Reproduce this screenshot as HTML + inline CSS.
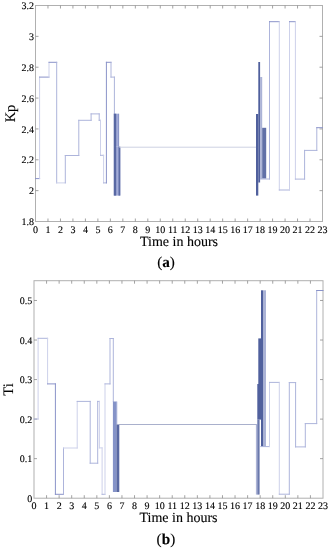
<!DOCTYPE html><html><head><meta charset="utf-8"><style>html,body{margin:0;padding:0;background:#fff;}body{width:329px;height:550px;overflow:hidden;}svg{display:block;text-rendering:geometricPrecision;}.tk{font-family:"Liberation Serif",serif;font-size:10px;fill:#000;stroke:#000;stroke-width:0.12px;}.lb{font-family:"Liberation Serif",serif;font-size:14px;fill:#000;stroke:#000;stroke-width:0.12px;}</style></head><body>
<svg width="329" height="550" viewBox="0 0 329 550">
<rect x="35.5" y="5.5" width="287" height="216" fill="none" stroke="#b0b0b0" stroke-width="1"/>
<path d="M47.98 221.5V218.5M47.98 5.5V8.5M60.46 221.5V218.5M60.46 5.5V8.5M72.93 221.5V218.5M72.93 5.5V8.5M85.41 221.5V218.5M85.41 5.5V8.5M97.89 221.5V218.5M97.89 5.5V8.5M110.37 221.5V218.5M110.37 5.5V8.5M122.85 221.5V218.5M122.85 5.5V8.5M135.33 221.5V218.5M135.33 5.5V8.5M147.8 221.5V218.5M147.8 5.5V8.5M160.28 221.5V218.5M160.28 5.5V8.5M172.76 221.5V218.5M172.76 5.5V8.5M185.24 221.5V218.5M185.24 5.5V8.5M197.72 221.5V218.5M197.72 5.5V8.5M210.2 221.5V218.5M210.2 5.5V8.5M222.67 221.5V218.5M222.67 5.5V8.5M235.15 221.5V218.5M235.15 5.5V8.5M247.63 221.5V218.5M247.63 5.5V8.5M260.11 221.5V218.5M260.11 5.5V8.5M272.59 221.5V218.5M272.59 5.5V8.5M285.07 221.5V218.5M285.07 5.5V8.5M297.54 221.5V218.5M297.54 5.5V8.5M310.02 221.5V218.5M310.02 5.5V8.5M35.5 190.64H38.5M322.5 190.64H319.5M35.5 159.79H38.5M322.5 159.79H319.5M35.5 128.93H38.5M322.5 128.93H319.5M35.5 98.07H38.5M322.5 98.07H319.5M35.5 67.21H38.5M322.5 67.21H319.5M35.5 36.36H38.5M322.5 36.36H319.5" stroke="#8c8c8c" stroke-width="0.8" fill="none"/>
<text x="35.5" y="232.8" class="tk" text-anchor="middle">0</text>
<text x="47.98" y="232.8" class="tk" text-anchor="middle">1</text>
<text x="60.46" y="232.8" class="tk" text-anchor="middle">2</text>
<text x="72.93" y="232.8" class="tk" text-anchor="middle">3</text>
<text x="85.41" y="232.8" class="tk" text-anchor="middle">4</text>
<text x="97.89" y="232.8" class="tk" text-anchor="middle">5</text>
<text x="110.37" y="232.8" class="tk" text-anchor="middle">6</text>
<text x="122.85" y="232.8" class="tk" text-anchor="middle">7</text>
<text x="135.33" y="232.8" class="tk" text-anchor="middle">8</text>
<text x="147.8" y="232.8" class="tk" text-anchor="middle">9</text>
<text x="160.28" y="232.8" class="tk" text-anchor="middle">10</text>
<text x="172.76" y="232.8" class="tk" text-anchor="middle">11</text>
<text x="185.24" y="232.8" class="tk" text-anchor="middle">12</text>
<text x="197.72" y="232.8" class="tk" text-anchor="middle">13</text>
<text x="210.2" y="232.8" class="tk" text-anchor="middle">14</text>
<text x="222.67" y="232.8" class="tk" text-anchor="middle">15</text>
<text x="235.15" y="232.8" class="tk" text-anchor="middle">16</text>
<text x="247.63" y="232.8" class="tk" text-anchor="middle">17</text>
<text x="260.11" y="232.8" class="tk" text-anchor="middle">18</text>
<text x="272.59" y="232.8" class="tk" text-anchor="middle">19</text>
<text x="285.07" y="232.8" class="tk" text-anchor="middle">20</text>
<text x="297.54" y="232.8" class="tk" text-anchor="middle">21</text>
<text x="310.02" y="232.8" class="tk" text-anchor="middle">22</text>
<text x="322.5" y="232.8" class="tk" text-anchor="middle">23</text>
<text x="33.9" y="225.1" class="tk" text-anchor="end">1.8</text>
<text x="33.9" y="194.24" class="tk" text-anchor="end">2</text>
<text x="33.9" y="163.39" class="tk" text-anchor="end">2.2</text>
<text x="33.9" y="132.53" class="tk" text-anchor="end">2.4</text>
<text x="33.9" y="101.67" class="tk" text-anchor="end">2.6</text>
<text x="33.9" y="70.81" class="tk" text-anchor="end">2.8</text>
<text x="33.9" y="39.96" class="tk" text-anchor="end">3</text>
<text x="33.9" y="9.1" class="tk" text-anchor="end">3.2</text>
<text transform="translate(14.6,113.5) rotate(-90)" class="lb" style="font-size:14.5px" text-anchor="middle">Kp</text>
<text x="179" y="246.2" class="lb" text-anchor="middle">Time in hours</text>
<text x="166" y="267.2" class="lb" style="font-size:15.2px" text-anchor="middle">(<tspan font-weight="bold">a</tspan>)</text>
<path d="M35.5 178.6L39.6 178.6" stroke="#8a93c9" stroke-width="1.0" stroke-linecap="square" fill="none"/>
<path d="M39.6 178.6L39.6 77.1" stroke="#cdd1ea" stroke-width="1.0" stroke-linecap="square" fill="none"/>
<path d="M39.6 77.1L49 77.1" stroke="#8a93c9" stroke-width="1.0" stroke-linecap="square" fill="none"/>
<path d="M49 77.1L49 62.3" stroke="#cdd1ea" stroke-width="1.0" stroke-linecap="square" fill="none"/>
<path d="M49 62.3L56.7 62.3" stroke="#8a93c9" stroke-width="1.0" stroke-linecap="square" fill="none"/>
<path d="M56.7 62.3L56.7 182.9" stroke="#adb4db" stroke-width="1.0" stroke-linecap="square" fill="none"/>
<path d="M56.7 182.9L65.3 182.9" stroke="#cdd1ea" stroke-width="1.0" stroke-linecap="square" fill="none"/>
<path d="M65.3 182.9L65.3 155.5" stroke="#adb4db" stroke-width="1.0" stroke-linecap="square" fill="none"/>
<path d="M65.3 155.5L78.8 155.5" stroke="#adb4db" stroke-width="1.0" stroke-linecap="square" fill="none"/>
<path d="M78.8 155.5L78.8 120.3" stroke="#adb4db" stroke-width="1.0" stroke-linecap="square" fill="none"/>
<path d="M78.8 120.3L91.1 120.3" stroke="#adb4db" stroke-width="1.0" stroke-linecap="square" fill="none"/>
<path d="M91.1 120.3L91.1 113.9" stroke="#adb4db" stroke-width="1.0" stroke-linecap="square" fill="none"/>
<path d="M91.1 113.9L99.2 113.9" stroke="#adb4db" stroke-width="1.0" stroke-linecap="square" fill="none"/>
<path d="M99.2 113.9L99.2 120.3" stroke="#adb4db" stroke-width="1.0" stroke-linecap="square" fill="none"/>
<path d="M99.2 120.3L100.5 120.3" stroke="#adb4db" stroke-width="1.0" stroke-linecap="square" fill="none"/>
<path d="M100.5 120.3L100.5 155.3" stroke="#cdd1ea" stroke-width="1.0" stroke-linecap="square" fill="none"/>
<path d="M100.5 155.3L103.6 155.3" stroke="#adb4db" stroke-width="1.0" stroke-linecap="square" fill="none"/>
<path d="M103.6 155.3L103.6 182.9" stroke="#cdd1ea" stroke-width="1.0" stroke-linecap="square" fill="none"/>
<path d="M103.6 182.9L106.4 182.9" stroke="#adb4db" stroke-width="1.0" stroke-linecap="square" fill="none"/>
<path d="M106.4 182.9L106.4 62.3" stroke="#8a93c9" stroke-width="1.0" stroke-linecap="square" fill="none"/>
<path d="M106.4 62.3L111 62.3" stroke="#8a93c9" stroke-width="1.0" stroke-linecap="square" fill="none"/>
<path d="M111 62.3L111 77.1" stroke="#adb4db" stroke-width="1.0" stroke-linecap="square" fill="none"/>
<path d="M111 77.1L114.4 77.1" stroke="#adb4db" stroke-width="1.0" stroke-linecap="square" fill="none"/>
<path d="M114.4 77.1L114.4 114" stroke="#adb4db" stroke-width="1.0" stroke-linecap="square" fill="none"/>
<rect x="113.8" y="113.7" width="5.3" height="33" fill="#a3acd8" fill-opacity="1"/>
<rect x="113.8" y="146.7" width="6.5" height="48.9" fill="#a3acd8" fill-opacity="1"/>
<rect x="113.8" y="113.7" width="2.4" height="81.9" fill="#50609d" fill-opacity="0.9"/>
<rect x="118.5" y="146.7" width="1.8" height="48.9" fill="#50609d" fill-opacity="0.85"/>
<rect x="118.3" y="113.7" width="0.8" height="33" fill="#50609d" fill-opacity="0.4"/>
<path d="M119.3 147.2 256.5 147.2" stroke="#cdd1e2" stroke-width="1.0" fill="none" stroke-opacity="1"/>
<rect x="256" y="114" width="2.3" height="81.6" fill="#50609d" fill-opacity="1"/>
<rect x="258.3" y="62" width="1.8" height="120.5" fill="#50609d" fill-opacity="1"/>
<rect x="260.1" y="77" width="2.1" height="102" fill="#abb3d6" fill-opacity="1"/>
<rect x="262.2" y="127.8" width="4" height="50.8" fill="#50609d" fill-opacity="0.9"/>
<path d="M260.4 179L269.5 179" stroke="#adb4db" stroke-width="1.0" stroke-linecap="square" fill="none"/>
<path d="M269.5 179L269.5 21.7" stroke="#adb4db" stroke-width="1.0" stroke-linecap="square" fill="none"/>
<path d="M269.5 21.7L279.3 21.7" stroke="#8a93c9" stroke-width="1.0" stroke-linecap="square" fill="none"/>
<path d="M279.3 21.7L279.3 190" stroke="#cdd1ea" stroke-width="1.0" stroke-linecap="square" fill="none"/>
<path d="M279.3 190L289.5 190" stroke="#adb4db" stroke-width="1.0" stroke-linecap="square" fill="none"/>
<path d="M289.5 190L289.5 21.7" stroke="#cdd1ea" stroke-width="1.0" stroke-linecap="square" fill="none"/>
<path d="M289.5 21.7L295.4 21.7" stroke="#8a93c9" stroke-width="1.0" stroke-linecap="square" fill="none"/>
<path d="M295.4 21.7L295.4 179.1" stroke="#cdd1ea" stroke-width="1.0" stroke-linecap="square" fill="none"/>
<path d="M295.4 179.1L304.6 179.1" stroke="#adb4db" stroke-width="1.0" stroke-linecap="square" fill="none"/>
<path d="M304.6 179.1L304.6 150.4" stroke="#adb4db" stroke-width="1.0" stroke-linecap="square" fill="none"/>
<path d="M304.6 150.4L316.8 150.4" stroke="#adb4db" stroke-width="1.0" stroke-linecap="square" fill="none"/>
<path d="M316.8 150.4L316.8 127.7" stroke="#adb4db" stroke-width="1.0" stroke-linecap="square" fill="none"/>
<path d="M316.8 127.7L322.5 127.7" stroke="#8a93c9" stroke-width="1.0" stroke-linecap="square" fill="none"/>
<rect x="34" y="280.7" width="289" height="217.5" fill="none" stroke="#b0b0b0" stroke-width="1"/>
<path d="M46.57 498.2V495.2M46.57 280.7V283.7M59.13 498.2V495.2M59.13 280.7V283.7M71.7 498.2V495.2M71.7 280.7V283.7M84.26 498.2V495.2M84.26 280.7V283.7M96.83 498.2V495.2M96.83 280.7V283.7M109.39 498.2V495.2M109.39 280.7V283.7M121.96 498.2V495.2M121.96 280.7V283.7M134.52 498.2V495.2M134.52 280.7V283.7M147.09 498.2V495.2M147.09 280.7V283.7M159.65 498.2V495.2M159.65 280.7V283.7M172.22 498.2V495.2M172.22 280.7V283.7M184.78 498.2V495.2M184.78 280.7V283.7M197.35 498.2V495.2M197.35 280.7V283.7M209.91 498.2V495.2M209.91 280.7V283.7M222.48 498.2V495.2M222.48 280.7V283.7M235.04 498.2V495.2M235.04 280.7V283.7M247.61 498.2V495.2M247.61 280.7V283.7M260.17 498.2V495.2M260.17 280.7V283.7M272.74 498.2V495.2M272.74 280.7V283.7M285.3 498.2V495.2M285.3 280.7V283.7M297.87 498.2V495.2M297.87 280.7V283.7M310.43 498.2V495.2M310.43 280.7V283.7M34 458.65H37M323 458.65H320M34 419.11H37M323 419.11H320M34 379.56H37M323 379.56H320M34 340.02H37M323 340.02H320M34 300.47H37M323 300.47H320" stroke="#8c8c8c" stroke-width="0.8" fill="none"/>
<text x="34" y="508.7" class="tk" text-anchor="middle">0</text>
<text x="46.57" y="508.7" class="tk" text-anchor="middle">1</text>
<text x="59.13" y="508.7" class="tk" text-anchor="middle">2</text>
<text x="71.7" y="508.7" class="tk" text-anchor="middle">3</text>
<text x="84.26" y="508.7" class="tk" text-anchor="middle">4</text>
<text x="96.83" y="508.7" class="tk" text-anchor="middle">5</text>
<text x="109.39" y="508.7" class="tk" text-anchor="middle">6</text>
<text x="121.96" y="508.7" class="tk" text-anchor="middle">7</text>
<text x="134.52" y="508.7" class="tk" text-anchor="middle">8</text>
<text x="147.09" y="508.7" class="tk" text-anchor="middle">9</text>
<text x="159.65" y="508.7" class="tk" text-anchor="middle">10</text>
<text x="172.22" y="508.7" class="tk" text-anchor="middle">11</text>
<text x="184.78" y="508.7" class="tk" text-anchor="middle">12</text>
<text x="197.35" y="508.7" class="tk" text-anchor="middle">13</text>
<text x="209.91" y="508.7" class="tk" text-anchor="middle">14</text>
<text x="222.48" y="508.7" class="tk" text-anchor="middle">15</text>
<text x="235.04" y="508.7" class="tk" text-anchor="middle">16</text>
<text x="247.61" y="508.7" class="tk" text-anchor="middle">17</text>
<text x="260.17" y="508.7" class="tk" text-anchor="middle">18</text>
<text x="272.74" y="508.7" class="tk" text-anchor="middle">19</text>
<text x="285.3" y="508.7" class="tk" text-anchor="middle">20</text>
<text x="297.87" y="508.7" class="tk" text-anchor="middle">21</text>
<text x="310.43" y="508.7" class="tk" text-anchor="middle">22</text>
<text x="323" y="508.7" class="tk" text-anchor="middle">23</text>
<text x="32.2" y="501.8" class="tk" text-anchor="end">0</text>
<text x="32.2" y="462.25" class="tk" text-anchor="end">0.1</text>
<text x="32.2" y="422.71" class="tk" text-anchor="end">0.2</text>
<text x="32.2" y="383.16" class="tk" text-anchor="end">0.3</text>
<text x="32.2" y="343.62" class="tk" text-anchor="end">0.4</text>
<text x="32.2" y="304.07" class="tk" text-anchor="end">0.5</text>
<text transform="translate(12.8,389.45) rotate(-90)" class="lb" style="font-size:14.5px" text-anchor="middle">Ti</text>
<text x="178.5" y="522.4" class="lb" text-anchor="middle">Time in hours</text>
<text x="165.9" y="543.8" class="lb" style="font-size:15.2px" text-anchor="middle">(<tspan font-weight="bold">b</tspan>)</text>
<path d="M34 419L38.1 419" stroke="#adb4db" stroke-width="1.0" stroke-linecap="square" fill="none"/>
<path d="M38.1 419L38.1 338.3" stroke="#cdd1ea" stroke-width="1.0" stroke-linecap="square" fill="none"/>
<path d="M38.1 338.3L47.6 338.3" stroke="#adb4db" stroke-width="1.0" stroke-linecap="square" fill="none"/>
<path d="M47.6 338.3L47.6 383.9" stroke="#cdd1ea" stroke-width="1.0" stroke-linecap="square" fill="none"/>
<path d="M47.6 383.9L55.4 383.9" stroke="#8a93c9" stroke-width="1.0" stroke-linecap="square" fill="none"/>
<path d="M55.4 383.9L55.4 494.3" stroke="#8a93c9" stroke-width="1.0" stroke-linecap="square" fill="none"/>
<path d="M55.4 494.3L63.5 494.3" stroke="#8a93c9" stroke-width="1.0" stroke-linecap="square" fill="none"/>
<path d="M63.5 494.3L63.5 448" stroke="#adb4db" stroke-width="1.0" stroke-linecap="square" fill="none"/>
<path d="M63.5 448L77.2 448" stroke="#cdd1ea" stroke-width="1.0" stroke-linecap="square" fill="none"/>
<path d="M77.2 448L77.2 401.4" stroke="#cdd1ea" stroke-width="1.0" stroke-linecap="square" fill="none"/>
<path d="M77.2 401.4L90.2 401.4" stroke="#adb4db" stroke-width="1.0" stroke-linecap="square" fill="none"/>
<path d="M90.2 401.4L90.2 463.2" stroke="#adb4db" stroke-width="1.0" stroke-linecap="square" fill="none"/>
<path d="M90.2 463.2L97.7 463.2" stroke="#adb4db" stroke-width="1.0" stroke-linecap="square" fill="none"/>
<path d="M97.7 463.2L97.7 401.4" stroke="#adb4db" stroke-width="1.0" stroke-linecap="square" fill="none"/>
<path d="M97.7 401.4L99.4 401.4" stroke="#adb4db" stroke-width="1.0" stroke-linecap="square" fill="none"/>
<path d="M99.4 401.4L99.4 447.9" stroke="#cdd1ea" stroke-width="1.0" stroke-linecap="square" fill="none"/>
<path d="M99.4 447.9L102.1 447.9" stroke="#cdd1ea" stroke-width="1.0" stroke-linecap="square" fill="none"/>
<path d="M102.1 447.9L102.1 494.3" stroke="#cdd1ea" stroke-width="1.0" stroke-linecap="square" fill="none"/>
<path d="M102.1 494.3L105 494.3" stroke="#adb4db" stroke-width="1.0" stroke-linecap="square" fill="none"/>
<path d="M105 494.3L105 383.9" stroke="#cdd1ea" stroke-width="1.0" stroke-linecap="square" fill="none"/>
<path d="M105 383.9L110 383.9" stroke="#adb4db" stroke-width="1.0" stroke-linecap="square" fill="none"/>
<path d="M110 383.9L110 338.5" stroke="#adb4db" stroke-width="1.0" stroke-linecap="square" fill="none"/>
<path d="M110 338.5L113.3 338.5" stroke="#adb4db" stroke-width="1.0" stroke-linecap="square" fill="none"/>
<path d="M113.3 338.5L113.3 401.5" stroke="#adb4db" stroke-width="1.0" stroke-linecap="square" fill="none"/>
<rect x="112.9" y="401.5" width="3.5" height="90.5" fill="#8593c8" fill-opacity="1"/>
<rect x="116.4" y="424.3" width="2.9" height="67.7" fill="#50609d" fill-opacity="0.95"/>
<rect x="116.4" y="401.5" width="0.8" height="22.8" fill="#8593c8" fill-opacity="1"/>
<path d="M117.2 424.5 257 424.5" stroke="#a9b0cc" stroke-width="1.0" fill="none" stroke-opacity="1"/>
<rect x="263.1" y="290.3" width="2.9" height="156.3" fill="#abb3d6" fill-opacity="1"/>
<rect x="261" y="290.3" width="2.1" height="156.3" fill="#50609d" fill-opacity="1"/>
<rect x="258.3" y="338.4" width="2.7" height="45.6" fill="#50609d" fill-opacity="1"/>
<rect x="257.3" y="384" width="3.7" height="35.6" fill="#50609d" fill-opacity="1"/>
<rect x="255.9" y="424.3" width="1.4" height="70.3" fill="#abb3d6" fill-opacity="1"/>
<rect x="257.3" y="419.6" width="2.3" height="75" fill="#50609d" fill-opacity="0.85"/>
<path d="M260.8 446.6L269.5 446.6" stroke="#adb4db" stroke-width="1.0" stroke-linecap="square" fill="none"/>
<path d="M269.5 446.6L269.5 382.4" stroke="#cdd1ea" stroke-width="1.0" stroke-linecap="square" fill="none"/>
<path d="M269.5 382.4L279.3 382.4" stroke="#adb4db" stroke-width="1.0" stroke-linecap="square" fill="none"/>
<path d="M279.3 382.4L279.3 494.2" stroke="#cdd1ea" stroke-width="1.0" stroke-linecap="square" fill="none"/>
<path d="M279.3 494.2L289.3 494.2" stroke="#adb4db" stroke-width="1.0" stroke-linecap="square" fill="none"/>
<path d="M289.3 494.2L289.3 382.6" stroke="#adb4db" stroke-width="1.0" stroke-linecap="square" fill="none"/>
<path d="M289.3 382.6L295.6 382.6" stroke="#adb4db" stroke-width="1.0" stroke-linecap="square" fill="none"/>
<path d="M295.6 382.6L295.6 446.9" stroke="#adb4db" stroke-width="1.0" stroke-linecap="square" fill="none"/>
<path d="M295.6 446.9L305.3 446.9" stroke="#adb4db" stroke-width="1.0" stroke-linecap="square" fill="none"/>
<path d="M305.3 446.9L305.3 423.6" stroke="#adb4db" stroke-width="1.0" stroke-linecap="square" fill="none"/>
<path d="M305.3 423.6L316.7 423.6" stroke="#adb4db" stroke-width="1.0" stroke-linecap="square" fill="none"/>
<path d="M316.7 423.6L316.7 290.5" stroke="#adb4db" stroke-width="1.0" stroke-linecap="square" fill="none"/>
<path d="M316.7 290.5L323 290.5" stroke="#8a93c9" stroke-width="1.0" stroke-linecap="square" fill="none"/>
</svg></body></html>
